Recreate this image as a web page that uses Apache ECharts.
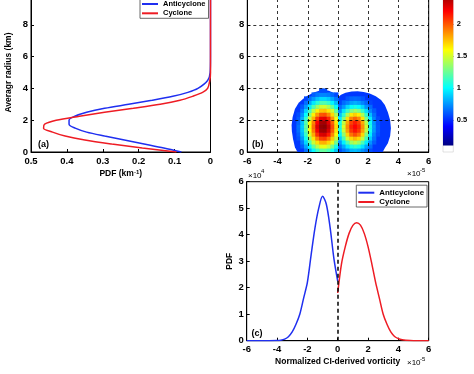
<!DOCTYPE html>
<html><head><meta charset="utf-8">
<script src="https://cdn.jsdelivr.net/npm/echarts@6/dist/echarts.min.js"></script>
<style>html,body{margin:0;padding:0;background:#fff}#c{width:474px;height:374px}</style>
</head><body><div id="c"></div>
<script>
// ---------- DATA ----------
// Panel (a): PDF of average radius
const radiusA = [0,0.25,0.5,0.75,1,1.25,1.5,1.75,2,2.25,2.5,2.75,3,3.25,3.5,3.75,4,4.5,5,6,7,8,9,10];
const pdfRadAnti = [0.081,0.13,0.185,0.24,0.295,0.345,0.377,0.394,0.394,0.378,0.345,0.295,0.228,0.163,0.105,0.063,0.035,0.008,0.001,0,0,0,0,0];
const pdfRadCyc  = [0.095,0.19,0.275,0.35,0.405,0.44,0.465,0.462,0.43,0.365,0.295,0.215,0.14,0.085,0.05,0.022,0.008,0.002,0,0,0,0,0,0];
const pdfTicksA = [0,0.1,0.2,0.3,0.4,0.5];
const radiusTicks = [0,2,4,6,8,10];

// Panel (b): joint PDF (cell centres, x in 1e-5, y in km)
const heatX = [-2.875,-2.625,-2.375,-2.125,-1.875,-1.625,-1.375,-1.125,-0.875,-0.625,-0.375,-0.125,
               0.125,0.375,0.625,0.875,1.125,1.375,1.625,1.875,2.125,2.375,2.625,2.875,3.125,3.375];
const heatY = [0.125,0.375,0.625,0.875,1.125,1.375,1.625,1.875,2.125,2.375,2.625,2.875,3.125,3.375,3.625,3.875];
const n = null;
const heatRows = [
 [n,n,0.55,0.67,0.83,0.99,1.14,1.23,1.24,1.17,1.03,0.87, 0.58,0.67,0.74,0.83,0.85,0.82,0.74,0.67,0.58,0.53,0.49,0.45,n,n],
 [n,0.52,0.62,0.79,0.99,1.23,1.42,1.54,1.55,1.46,1.28,1.05, 0.67,0.80,0.95,1.06,1.11,1.06,0.94,0.79,0.66,0.55,0.51,0.47,0.44,n],
 [0.47,0.54,0.69,0.91,1.19,1.47,1.67,1.78,1.79,1.70,1.54,1.26, 0.76,0.97,1.19,1.37,1.44,1.36,1.18,0.96,0.75,0.62,0.53,0.49,0.45,n],
 [0.49,0.59,0.76,1.03,1.36,1.66,1.89,2.05,2.07,1.94,1.72,1.45, 0.89,1.16,1.48,1.69,1.76,1.69,1.46,1.15,0.88,0.67,0.55,0.50,0.46,0.42],
 [0.50,0.62,0.83,1.13,1.51,1.80,2.09,2.28,2.30,2.15,1.88,1.59, 0.98,1.33,1.70,1.93,2.02,1.92,1.69,1.31,0.97,0.71,0.58,0.51,0.46,0.43],
 [0.51,0.66,0.87,1.20,1.59,1.91,2.22,2.42,2.43,2.29,1.99,1.66, 1.06,1.47,1.83,2.07,2.16,2.07,1.82,1.45,1.04,0.76,0.60,0.52,0.47,0.43],
 [0.51,0.67,0.88,1.22,1.61,1.94,2.27,2.45,2.47,2.34,2.03,1.68, 1.08,1.51,1.87,2.12,2.20,2.11,1.86,1.49,1.07,0.77,0.60,0.52,0.47,0.43],
 [0.51,0.64,0.86,1.19,1.58,1.89,2.20,2.41,2.42,2.27,1.97,1.65, 1.05,1.45,1.81,2.05,2.14,2.05,1.80,1.43,1.03,0.75,0.59,0.52,0.47,0.43],
 [0.50,0.61,0.82,1.11,1.48,1.78,2.06,2.24,2.26,2.11,1.85,1.57, 0.97,1.29,1.67,1.89,1.97,1.88,1.66,1.28,0.96,0.71,0.57,0.51,0.46,n],
 [0.48,0.58,0.75,1.00,1.33,1.63,1.84,2.00,2.02,1.89,1.69,1.41, 0.86,1.12,1.41,1.65,1.71,1.64,1.40,1.11,0.85,0.66,0.54,0.50,0.46,n],
 [n,0.54,0.68,0.89,1.15,1.43,1.63,1.73,1.75,1.66,1.49,1.22, 0.73,0.94,1.14,1.29,1.36,1.29,1.13,0.93,0.72,0.61,0.53,0.48,0.45,n],
 [n,0.51,0.61,0.76,0.96,1.18,1.36,1.48,1.49,1.40,1.23,1.01, 0.65,0.76,0.91,1.00,1.05,1.00,0.90,0.75,0.65,0.55,0.51,0.47,n,n],
 [n,n,0.54,0.66,0.80,0.95,1.09,1.18,1.18,1.12,0.98,0.84, 0.56,0.65,0.71,0.78,0.81,0.78,0.71,0.64,0.56,0.52,0.48,n,n,n],
 [n,n,n,0.56,0.66,0.76,0.86,0.92,0.92,0.88,0.79,0.68, 0.52,0.55,0.60,0.64,0.65,0.64,0.60,0.55,0.52,0.49,n,n,n,n],
 [n,n,n,n,0.55,0.62,0.68,0.71,0.71,0.69,0.64,0.57, n,0.51,0.53,0.54,0.55,0.54,0.53,0.51,n,n,n,n,n,n],
 [n,n,n,n,n,n,n,0.58,0.58,n,n,n, n,n,n,n,n,n,n,n,n,n,n,n,n,n]
];
// outer outlines of the two blobs [x (1e-5), radius (km)] and their edge level
const blobAntiOutline = [[-2.68,0],[-2.85,0.3],[-2.97,0.8],[-3.05,1.3],[-3.07,1.7],[-3.0,2.2],[-2.85,2.7],[-2.6,3.1],
  [-2.3,3.35],[-1.95,3.57],[-1.6,3.75],[-1.2,3.87],[-0.9,3.9],[-0.6,3.85],[-0.35,3.75],[-0.15,3.6],[0,3.45],[0,0]];
const blobCycOutline = [[0,0],[0,3.45],[0.2,3.6],[0.5,3.72],[0.9,3.8],[1.3,3.82],[1.7,3.78],[2.1,3.68],[2.5,3.5],
  [2.85,3.27],[3.1,2.95],[3.3,2.5],[3.45,2.0],[3.5,1.5],[3.45,1.0],[3.3,0.55],[3.1,0.25],[2.96,0]];
const blobEdgeLevel = 0.53;
const vortTicks = [-6,-4,-2,0,2,4,6];
const cbRange = [0.1, 2.5];
const cbTicks = [0.5, 1, 1.5, 2];

// Panel (c): PDF of normalized vorticity (x1e-5, PDF x1e4)
const vortAnti = [-6,-5.5,-5,-4.5,-4,-3.75,-3.5,-3.25,-3,-2.75,-2.5,-2.25,-2,-1.75,-1.5,-1.25,-1,-0.75,-0.5,-0.25,0];
const pdfVortAnti = [0,0,0,0,0.005,0.02,0.06,0.15,0.33,0.62,1.0,1.6,2.2,3.25,4.25,5.0,5.45,5.15,4.27,3.1,2.25];
const vortCyc = [0,0.25,0.5,0.75,1,1.25,1.5,1.75,2,2.25,2.5,2.75,3,3.25,3.5,3.75,4,4.25,4.5,5,5.5,6];
const pdfVortCyc = [1.8,2.9,3.55,4.05,4.35,4.45,4.36,4.05,3.55,2.9,2.2,1.6,1.0,0.62,0.33,0.16,0.08,0.035,0.015,0,0,0];
const pdfTicksC = [0,1,2,3,4,5,6];
const seriesNames = ['Anticyclone','Cyclone'];

// ---------- STYLE ----------
const FONT = '"Liberation Sans", Arial, sans-serif';
const BLUE = '#1f2ff0', RED = '#ee1c24';
const JET = ['#000080','#0000ff','#0080ff','#00ffff','#80ff80','#ffff00','#ff8000','#ff0000','#800000'];
const CELL = 0.25;

const lbl = (o) => Object.assign({color:'#000', fontFamily:FONT, fontWeight:'bold', fontSize:9.5}, o||{});
function valAxis(grid, ticks, o) {
  return Object.assign({
    gridIndex: grid, type:'value', min: ticks[0], max: ticks[ticks.length-1], interval: ticks[1]-ticks[0],
    axisLine:{show:true, onZero:false, lineStyle:{color:'#000', width:1}},
    axisTick:{show:true, inside:true, length:3, lineStyle:{color:'#000'}},
    axisLabel: lbl({margin:4}),
    splitLine:{show:false},
    nameTextStyle:{color:'#000', fontFamily:FONT, fontWeight:'bold', fontSize:8.5}
  }, o);
}
const dashed = {show:true, lineStyle:{color:'#000', type:[3,3], width:0.8}};

const heatData = [];
heatRows.forEach((row, i) => row.forEach((v, j) => {
  if (v !== null && v > blobEdgeLevel + 0.02) heatData.push([heatX[j], heatY[i], v]);
}));
const outlines = [blobAntiOutline, blobCycOutline];
const outlineData = outlines.map(o => [o[0][0], o[0][1], blobEdgeLevel]);

const zip = (xs, ys) => xs.map((x, i) => [x, ys[i]]);

const chart = echarts.init(document.getElementById('c'), null, {width:474, height:374});
const cbGrad = new echarts.graphic.LinearGradient(0,0,0,1,
  JET.slice().reverse().map((c, i, a) => ({offset: i/(a.length-1), color: c})));
const gridBase = {show:true, borderColor:'#000', borderWidth:1, containLabel:false, outerBoundsMode:'none'};

chart.setOption({
  animation:false,
  grid:[
    Object.assign({left:31, top:-7, width:179.5, height:159}, gridBase),
    Object.assign({left:247.3, top:-7, width:181.4, height:159}, gridBase),
    Object.assign({left:246.7, top:181.7, width:182, height:159}, gridBase),
    Object.assign({}, gridBase, {left:443, top:-8, width:10.3, height:160, borderColor:'#cfcfcf', borderWidth:0.6})
  ],
  xAxis:[
    valAxis(0, pdfTicksA, {inverse:true, name:'PDF (km{sup|-1})', nameLocation:'middle', nameGap:17,
      nameTextStyle:{color:'#000', fontFamily:FONT, fontWeight:'bold', fontSize:8.5,
        rich:{sup:{fontFamily:FONT, fontWeight:'bold', fontSize:6, verticalAlign:'top', color:'#000'}}}}),
    valAxis(1, vortTicks, {splitLine:dashed, z:5}),
    valAxis(2, vortTicks, {name:'Normalized CI-derived vorticity', nameLocation:'middle', nameGap:16.5}),
    {gridIndex:3, type:'category', data:['cb'], show:false}
  ],
  yAxis:[
    valAxis(0, radiusTicks, {name:'Averagr radius (km)', nameLocation:'middle', nameGap:11, axisLabel:lbl({margin:3})}),
    valAxis(1, radiusTicks, {splitLine:dashed, z:5, axisLabel:lbl({margin:3})}),
    valAxis(2, pdfTicksC, {name:'PDF', nameLocation:'middle', nameGap:6, axisLabel:lbl({margin:3})}),
    {gridIndex:3, type:'value', min:0, max:cbRange[1], position:'right',
      axisLine:{show:false}, splitLine:{show:false},
      axisTick:{show:true, inside:true, length:2, customValues:cbTicks, lineStyle:{color:'#222'}},
      axisLabel:lbl({margin:3.5, fontSize:7.5, customValues:cbTicks})}
  ],
  visualMap:{type:'continuous', show:false, min:cbRange[0], max:cbRange[1], dimension:2, seriesIndex:[2,3],
    inRange:{color:JET}},
  legend:[
    {data:seriesNames, orient:'vertical', left:140, top:-2.5, icon:'rect', itemWidth:16, itemHeight:2, itemGap:0.3,
     padding:[2,3,0.5,2], borderColor:'#444', borderWidth:0.8, backgroundColor:'#fff', selectedMode:false,
     textStyle:{fontFamily:FONT, fontWeight:'bold', fontSize:7.5, color:'#000', lineHeight:9}},
    {data:seriesNames, orient:'vertical', left:356.3, top:185.2, icon:'rect', itemWidth:16, itemHeight:2, itemGap:0.3,
     padding:[3,3,0.5,2], borderColor:'#444', borderWidth:0.8, backgroundColor:'#fff', selectedMode:false,
     textStyle:{fontFamily:FONT, fontWeight:'bold', fontSize:7.9, color:'#000', lineHeight:9}}
  ],
  series:[
    {name:seriesNames[0], type:'line', xAxisIndex:0, yAxisIndex:0, data:zip(pdfRadAnti, radiusA),
     showSymbol:false, smooth:0.3, color:BLUE, lineStyle:{width:1.5, color:BLUE}, z:3},
    {name:seriesNames[1], type:'line', xAxisIndex:0, yAxisIndex:0, data:zip(pdfRadCyc, radiusA),
     showSymbol:false, smooth:0.3, color:RED, lineStyle:{width:1.5, color:RED}, z:4},
    {type:'custom', xAxisIndex:1, yAxisIndex:1, data:outlineData, z:1,
     renderItem:(params, api) => ({type:'polygon',
       shape:{points: outlines[params.dataIndex].map(p => api.coord(p))},
       style:{fill:api.visual('color')}})},
    {type:'custom', xAxisIndex:1, yAxisIndex:1, data:heatData, z:2,
     renderItem:(params, api) => {
       const x = api.value(0), y = api.value(1);
       const p0 = api.coord([x - CELL/2, y + CELL/2]);
       const p1 = api.coord([x + CELL/2, y - CELL/2]);
       return {type:'rect', shape:{x:p0[0], y:p0[1], width:p1[0]-p0[0]+0.5, height:p1[1]-p0[1]+0.5},
               style:{fill:api.visual('color')}};
     }},
    {name:seriesNames[0], type:'line', xAxisIndex:2, yAxisIndex:2, data:zip(vortAnti, pdfVortAnti),
     showSymbol:false, smooth:0.3, color:BLUE, lineStyle:{width:1.5, color:BLUE}, z:3,
     markLine:{silent:true, symbol:'none', label:{show:false}, animation:false,
       lineStyle:{color:'#000', type:[4,3], width:1.5}, data:[{xAxis:0}]}},
    {name:seriesNames[1], type:'line', xAxisIndex:2, yAxisIndex:2, data:zip(vortCyc, pdfVortCyc),
     showSymbol:false, smooth:0.3, color:RED, lineStyle:{width:1.5, color:RED}, z:4},
    {type:'bar', xAxisIndex:3, yAxisIndex:3, stack:'cb', data:[cbRange[0]], barWidth:'100%', silent:true,
     itemStyle:{color:'rgba(0,0,0,0)'}},
    {type:'bar', xAxisIndex:3, yAxisIndex:3, stack:'cb', data:[cbRange[1]-cbRange[0]], barWidth:'100%', silent:true,
     itemStyle:{color:cbGrad}}
  ],
  graphic:[
    {type:'text', x:38, y:145, style:{text:'(a)', font:'bold 9px ' + FONT, fill:'#000', verticalAlign:'middle'}},
    {type:'text', x:252, y:145, style:{text:'(b)', font:'bold 9px ' + FONT, fill:'#000', verticalAlign:'middle'}},
    {type:'text', x:251.5, y:334, style:{text:'(c)', font:'bold 9px ' + FONT, fill:'#000', verticalAlign:'middle'}},
    {type:'text', x:407, y:174, style:{text:'×10', font:'8px ' + FONT, fill:'#000', verticalAlign:'middle'}},
    {type:'text', x:420, y:170, style:{text:'-5', font:'6px ' + FONT, fill:'#000', verticalAlign:'middle'}},
    {type:'text', x:248, y:176, style:{text:'×10', font:'8px ' + FONT, fill:'#000', verticalAlign:'middle'}},
    {type:'text', x:261, y:171.5, style:{text:'4', font:'6px ' + FONT, fill:'#000', verticalAlign:'middle'}},
    {type:'text', x:407, y:363, style:{text:'×10', font:'8px ' + FONT, fill:'#000', verticalAlign:'middle'}},
    {type:'text', x:420, y:359, style:{text:'-5', font:'6px ' + FONT, fill:'#000', verticalAlign:'middle'}}
  ]
});
</script></body></html>
